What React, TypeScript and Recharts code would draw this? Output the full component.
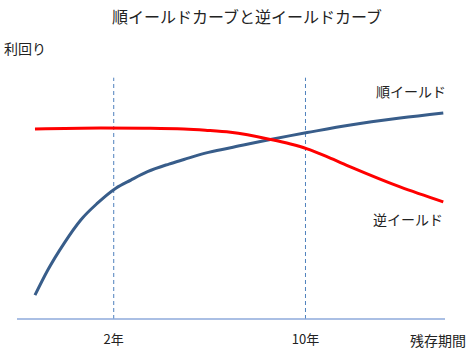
import React from 'react';
import { LineChart, Line, XAxis, YAxis, ReferenceLine } from 'recharts';

// x: remaining term (relative scale 0-100), y: yield (relative scale 0-100)
const normalX = [4.2, 7.2, 11.0, 14.9, 18.8, 23.1, 26.6, 30.5, 35.5, 39.0, 44.0, 49.9, 59.2, 63.9, 67.8, 77.9, 89.5, 99.6];
const normalY = [9.4, 19.3, 29.8, 39.0, 45.6, 51.5, 54.7, 58.0, 61.0, 62.8, 65.3, 67.4, 70.7, 72.2, 73.4, 76.4, 79.1, 81.1];

const invertedX = [4.2, 19.6, 31.2, 39.0, 44.0, 49.9, 59.2, 63.9, 67.8, 72.8, 77.9, 89.5, 99.6];
const invertedY = [74.8, 75.2, 75.1, 74.8, 74.3, 73.5, 70.7, 68.9, 67.0, 63.6, 59.9, 52.0, 46.1];

const tickValues = [22.6, 67.4];
const tickLabels = ['2年', '10年'];
const guideTop = 95;

const normalData = normalX.map((x, i) => ({ x, y: normalY[i] }));
const invertedData = invertedX.map((x, i) => ({ x, y: invertedY[i] }));

const font = '"Noto Sans CJK JP", sans-serif';

export default function App() {
    return (
        <div style={{ position: 'absolute', left: 0, top: 0, width: 474, height: 355, background: '#fff', fontFamily: font }}>
            <LineChart width={474} height={355} margin={{ top: 65, right: 29, left: 17, bottom: 0 }}>
                <XAxis
                    type="number"
                    dataKey="x"
                    domain={[0, 100]}
                    ticks={tickValues}
                    tickFormatter={(v: number) => tickLabels[tickValues.indexOf(v)]}
                    tickLine={false}
                    height={36}
                    stroke="#8eaadb"
                    strokeWidth={1.5}
                    tick={{ fill: '#222', fontSize: 13, fontFamily: font, dy: 8 }}
                    allowDuplicatedCategory={false}
                />
                <YAxis
                    type="number"
                    domain={[0, 100]}
                    width={0}
                    tick={false}
                    tickLine={false}
                    stroke="#8eaadb"
                    strokeWidth={1.5}
                />
                {tickValues.map((v) => (
                    <ReferenceLine key={v} stroke="#4f81bd" strokeDasharray="4 3" segment={[{ x: v, y: 0 }, { x: v, y: guideTop }]} />
                ))}
                <Line data={normalData} dataKey="y" type="monotone" stroke="#385d8a" strokeWidth={3} dot={false} isAnimationActive={false} />
                <Line data={invertedData} dataKey="y" type="monotone" stroke="#ff0000" strokeWidth={3} dot={false} isAnimationActive={false} />
                <text x={247} y={23} textAnchor="middle" fontSize={16} fill="#222" fontFamily={font}>順イールドカーブと逆イールドカーブ</text>
                <text x={4} y={54} fontSize={14} fill="#222" fontFamily={font}>利回り</text>
                <text x={376} y={97} fontSize={14} fill="#222" fontFamily={font}>順イールド</text>
                <text x={373} y={225} fontSize={14} fill="#222" fontFamily={font}>逆イールド</text>
                <text x={410} y={346} fontSize={14} fill="#222" fontFamily={font}>残存期間</text>
            </LineChart>
        </div>
    );
}
